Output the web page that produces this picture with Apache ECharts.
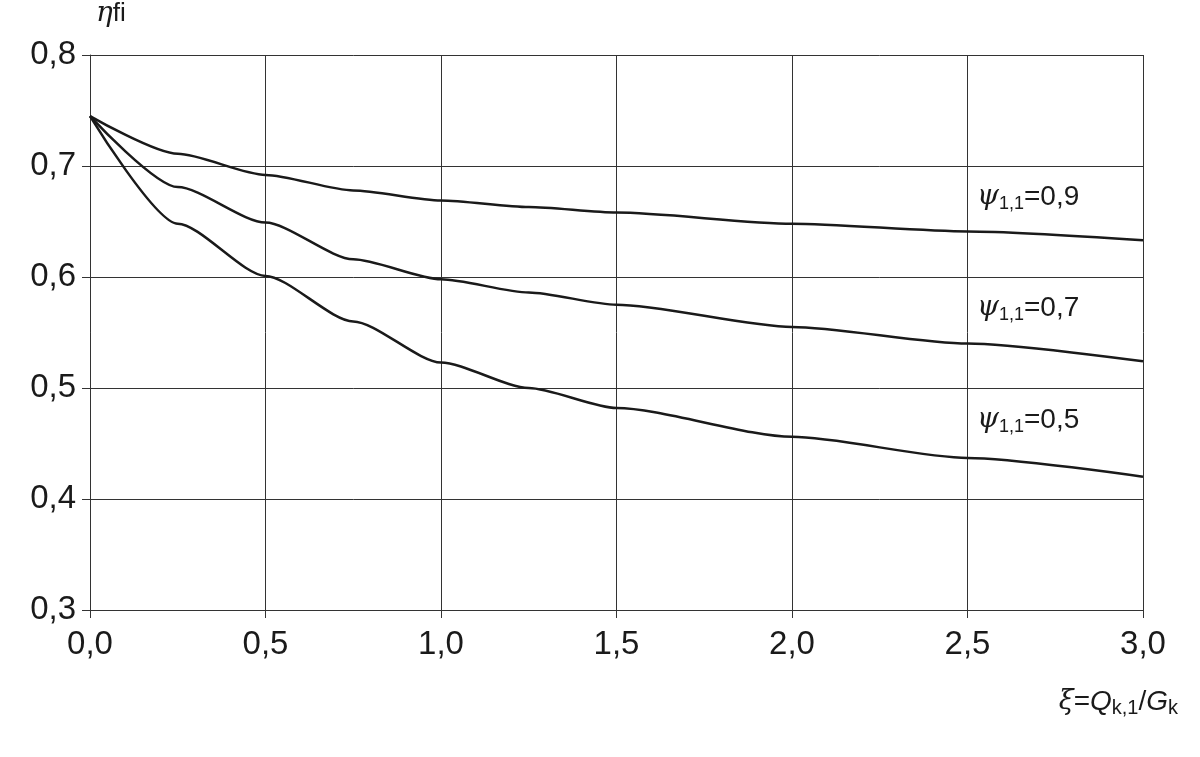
<!DOCTYPE html>
<html><head><meta charset="utf-8">
<script src="https://cdn.jsdelivr.net/npm/echarts@6/dist/echarts.min.js"></script>
<style>html,body{margin:0;background:#fff}#c{width:1200px;height:757px}</style>
</head><body><div id="c"></div>
<script>
const xs = [0, 0.25, 0.5, 0.75, 1.0, 1.25, 1.5, 2.0, 2.5, 3.0];
const psi09 = [0.745, 0.711, 0.692, 0.678, 0.669, 0.663, 0.658, 0.648, 0.641, 0.633];
const psi07 = [0.745, 0.681, 0.649, 0.616, 0.598, 0.586, 0.575, 0.555, 0.540, 0.524];
const psi05 = [0.745, 0.648, 0.601, 0.560, 0.523, 0.500, 0.482, 0.456, 0.437, 0.420];
const seriesNames = ['0,9', '0,7', '0,5'];
const font = 'Liberation Sans, Arial, sans-serif';
const chart = echarts.init(document.getElementById('c'));
const mk = (d) => ({type:'line', data: xs.map((x,i)=>[x,d[i]]), smooth:0.25, smoothMonotone:'x', symbol:'none',
  lineStyle:{color:'#1a1a1a', width:2.5}});
const fmt = v => v.toFixed(1).replace('.', ',');
const lab = (t, x, y) => ({type:'text', left:x, top:y, style:{
  text:'{i|ψ}{s|1,1}{n|=' + t + '}', rich:{
    i:{fontFamily:'DejaVu Serif', fontStyle:'italic', fontSize:28, fill:'#1a1a1a'},
    s:{fontFamily:font, fontSize:18, fill:'#1a1a1a', verticalAlign:'bottom', padding:[14,0,0,0]},
    n:{fontFamily:font, fontSize:28, fill:'#1a1a1a'}}}});
chart.setOption({
  animation:false,
  grid:{left:90, right:57, top:55, bottom:147},
  xAxis:{type:'value', min:0, max:3, interval:0.5,
    axisLine:{lineStyle:{color:'#333'}}, axisTick:{length:8, lineStyle:{color:'#333'}},
    splitLine:{lineStyle:{color:'#333', width:1}},
    axisLabel:{fontFamily:font, fontSize:33, color:'#1a1a1a', margin:18, formatter:fmt}},
  yAxis:{type:'value', min:0.3, max:0.8, interval:0.1,
    axisLine:{show:true, lineStyle:{color:'#333'}}, axisTick:{show:true, length:8, lineStyle:{color:'#333'}},
    splitLine:{lineStyle:{color:'#333', width:1}},
    axisLabel:{fontFamily:font, fontSize:33, color:'#1a1a1a', margin:14, formatter:fmt}},
  series:[mk(psi09), mk(psi07), mk(psi05)],
  graphic:[
    lab(seriesNames[0], 977, 183), lab(seriesNames[1], 977, 294), lab(seriesNames[2], 977, 406),
    {type:'text', left:96, top:0, style:{text:'{i|η}{n|fi}', rich:{
      i:{fontFamily:'DejaVu Serif', fontStyle:'italic', fontSize:28, fill:'#1a1a1a'},
      n:{fontFamily:font, fontSize:26, fill:'#1a1a1a'}}}},
    {type:'text', right:22, top:688, style:{text:'{i|ξ}{n|=}{i2|Q}{s|k,1}{n|/}{i2|G}{s|k}', rich:{
      i:{fontFamily:'DejaVu Serif', fontStyle:'italic', fontSize:27, fill:'#1a1a1a'},
      i2:{fontFamily:font, fontStyle:'italic', fontSize:28, fill:'#1a1a1a'},
      n:{fontFamily:font, fontSize:28, fill:'#1a1a1a'},
      s:{fontFamily:font, fontSize:20, fill:'#1a1a1a', verticalAlign:'bottom', padding:[12,0,0,0]}}}}
  ]
});
</script></body></html>
